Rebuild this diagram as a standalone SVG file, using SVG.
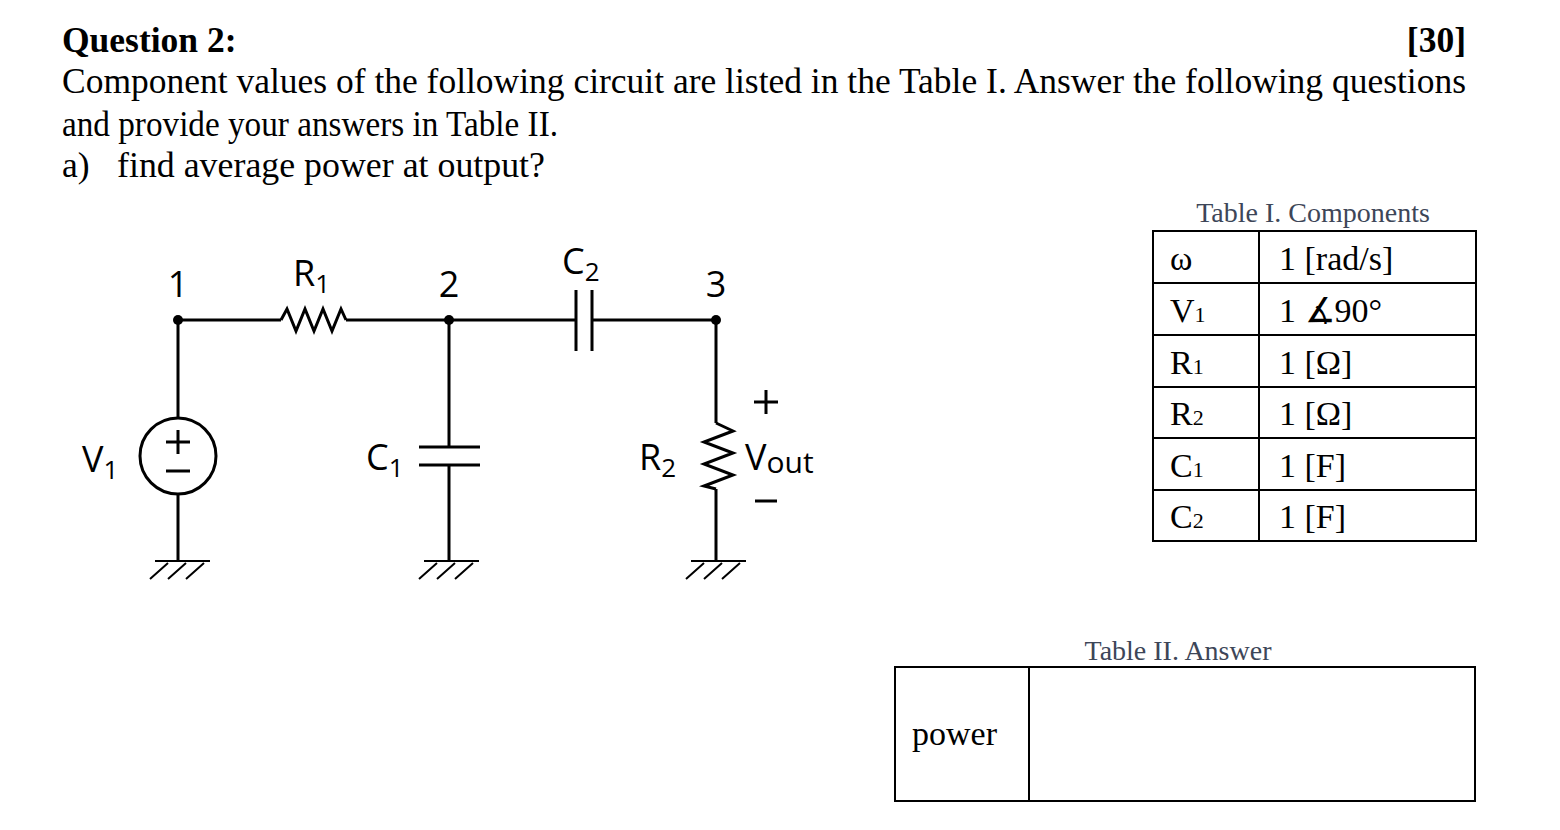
<svg xmlns="http://www.w3.org/2000/svg" width="1560" height="830" viewBox="0 0 1560 830">
<style>
.s{font-family:"Liberation Serif",serif;font-size:35.5px;fill:#000}
.cap{font-family:"Liberation Serif",serif;font-size:28px;fill:#3d4658}
.t{font-family:"Liberation Serif",serif;font-size:34px;fill:#000}
.l{font-family:"Open Sans","Noto Sans",sans-serif;font-size:36px;fill:#000}
.w{stroke:#000;stroke-width:3;fill:none}
.g{stroke:#000;stroke-width:2;fill:none}
</style>
<rect width="1560" height="830" fill="#fff"/>
<text class="s" x="62" y="52" font-weight="bold">Question 2:</text>
<text class="s" x="1466" y="52" font-weight="bold" text-anchor="end">[30]</text>
<text class="s" x="62" y="93" textLength="1404" lengthAdjust="spacingAndGlyphs">Component values of the following circuit are listed in the Table I. Answer the following questions</text>
<text class="s" x="62" y="136" textLength="496" lengthAdjust="spacingAndGlyphs">and provide your answers in Table II.</text>
<text class="s" x="62" y="177">a)</text>
<text class="s" x="117" y="177" textLength="428" lengthAdjust="spacingAndGlyphs">find average power at output?</text>

<g id="connectors">
<path class="w" d="M178 320 H281 M346 320 H576 M592 320 H716 V423 M716 489 V561 M449 320 V447 M449 465 V561 M178 320 V418 M178 494 V561"/>
</g>
<g id="R1"><path class="w" d="M281 320 L287 309 L296 331 L305 309 L314 331 L323 309 L332 331 L341 309 L346 320"/></g>
<g id="C2"><path class="w" d="M576 290 V351 M592 290 V351"/></g>
<g id="C1"><path class="w" d="M419 447 H480 M419 465 H480"/></g>
<g id="R2"><path class="w" d="M716 423 L733 431 L704 442 L733 453 L704 464 L733 475 L704 486 L716 489"/></g>
<g id="V1"><circle class="w" cx="178" cy="456" r="38"/>
<path class="w" d="M178 430 V454 M166 442 H190 M166 471 H190"/></g>
<g id="grounds">
<path class="g" d="M155 561 H210 M168 563 L150 579 M186 563 L168 579 M204 563 L186 579"/>
<path class="g" d="M424 561 H479 M437 563 L419 579 M455 563 L437 579 M473 563 L455 579"/>
<path class="g" d="M691 561 H746 M704 563 L686 579 M722 563 L704 579 M740 563 L722 579"/>
</g>
<g id="nodes" fill="#000"><circle cx="178" cy="320" r="5"/><circle cx="449" cy="320" r="5"/><circle cx="716" cy="320" r="5"/></g>
<g id="labels">
<text class="l" x="178" y="297" text-anchor="middle">1</text>
<text class="l" x="293" y="286">R<tspan font-size="26" dy="7">1</tspan></text>
<text class="l" x="449" y="297" text-anchor="middle">2</text>
<text class="l" x="562" y="274">C<tspan font-size="26" dy="7">2</tspan></text>
<text class="l" x="716" y="297" text-anchor="middle">3</text>
<text class="l" x="82" y="472">V<tspan font-size="26" dy="7">1</tspan></text>
<text class="l" x="366" y="470">C<tspan font-size="26" dy="7">1</tspan></text>
<text class="l" x="639" y="470">R<tspan font-size="26" dy="7">2</tspan></text>
<path class="w" d="M766 390 V414 M754 402 H778"/>
<text class="l" x="745" y="470">V<tspan font-size="30" dy="3">out</tspan></text>
<path class="w" d="M755 501 H777"/>
</g>

<g id="table1">
<text class="cap" x="1313" y="222" text-anchor="middle">Table I. Components</text>
<path class="g" d="M1153 231 H1476 V541 H1153 Z M1259 231 V541 M1153 283 H1476 M1153 335 H1476 M1153 387 H1476 M1153 438 H1476 M1153 490 H1476"/>
<text class="t" x="1170" y="270">ω</text><text class="t" x="1279" y="270">1 [rad/s]</text>
<text class="t" x="1170" y="322">V<tspan font-size="22">1</tspan></text><text class="t" x="1279" y="322">1 ∡90°</text>
<text class="t" x="1170" y="374">R<tspan font-size="22">1</tspan></text><text class="t" x="1279" y="374">1 [Ω]</text>
<text class="t" x="1170" y="425">R<tspan font-size="22">2</tspan></text><text class="t" x="1279" y="425">1 [Ω]</text>
<text class="t" x="1170" y="477">C<tspan font-size="22">1</tspan></text><text class="t" x="1279" y="477">1 [F]</text>
<text class="t" x="1170" y="528">C<tspan font-size="22">2</tspan></text><text class="t" x="1279" y="528">1 [F]</text>
</g>
<g id="table2">
<text class="cap" x="1178" y="660" text-anchor="middle">Table II. Answer</text>
<path class="g" d="M895 667 H1475 V801 H895 Z M1029 667 V801"/>
<text class="t" x="912" y="745">power</text>
</g>
</svg>
